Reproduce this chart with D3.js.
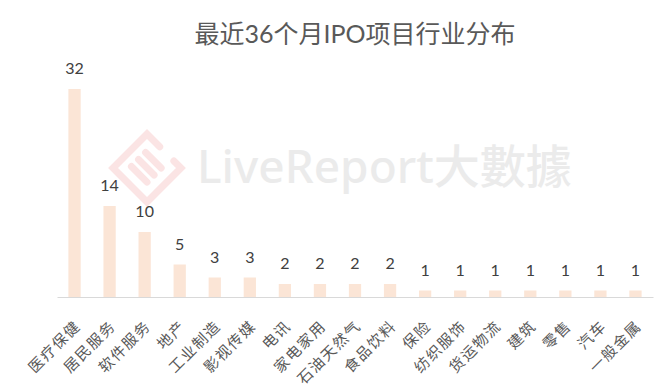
<!DOCTYPE html>
<html>
<head>
<meta charset="utf-8">
<script src="https://cdn.jsdelivr.net/npm/d3@7"></script>
<style>
  body { margin: 0; background: #fff; }
  svg { display: block; font-family: "Lato", "Noto Sans CJK SC", sans-serif; }
</style>
</head>
<body>
<div id="chart"></div>
<script>
// industries and IPO counts, last 36 months
const industries = ['医疗保健', '居民服务', '软件服务', '地产', '工业制造', '影视传媒', '电讯', '家电家用',
  '石油天然气', '食品饮料', '保险', '纺织服饰', '货运物流', '建筑', '零售', '汽车', '一般金属'];
const counts = [32, 14, 10, 5, 3, 3, 2, 2, 2, 2, 1, 1, 1, 1, 1, 1, 1];
const title = '最近36个月IPO项目行业分布';

const width = 667, height = 392;
const margin = { top: 89, right: 14, bottom: 95, left: 57 };
const plotW = width - margin.left - margin.right;
const plotH = height - margin.top - margin.bottom;

const svg = d3.select('#chart').append('svg')
  .attr('width', width)
  .attr('height', height);

// watermark
const wm = svg.append('g').attr('class', 'watermark');
const logo = wm.append('g').attr('transform', 'translate(147,168) rotate(45)')
  .attr('fill', 'none').attr('stroke', '#fbe4e4').attr('stroke-width', 7).attr('stroke-linecap', 'round');
logo.append('path').attr('d', 'M-6,-24 L-24,-24 L-24,24 L24,24 L24,-24 L14,-24');
logo.append('line').attr('x1', -12).attr('y1', -10).attr('x2', 10).attr('y2', -10);
logo.append('line').attr('x1', -12).attr('y1', 0).attr('x2', 10).attr('y2', 0);
logo.append('line').attr('x1', -12).attr('y1', 10).attr('x2', 10).attr('y2', 10);
wm.append('text')
  .attr('x', 197).attr('y', 183)
  .attr('fill', '#ebebeb')
  .attr('font-size', 46)
  .attr('font-weight', 500)
  .attr('font-family', '"Noto Sans", "Noto Sans CJK TC", sans-serif')
  .text('LiveReport大數據');

svg.append('text')
  .attr('x', 355).attr('y', 43)
  .attr('text-anchor', 'middle')
  .attr('fill', '#595959')
  .attr('font-size', 25)
  .text(title);

const g = svg.append('g').attr('transform', `translate(${margin.left},${margin.top})`);

const x = d3.scaleBand()
  .domain(industries)
  .range([0, plotW])
  .paddingInner(0.65)
  .paddingOuter(0.325);

const y = d3.scaleLinear()
  .domain([0, 32])
  .range([plotH, 0]);

g.selectAll('rect.bar')
  .data(industries)
  .join('rect')
  .attr('class', 'bar')
  .attr('x', d => x(d))
  .attr('y', (d, i) => y(counts[i]))
  .attr('width', x.bandwidth())
  .attr('height', (d, i) => plotH - y(counts[i]))
  .attr('fill', '#fbe5d6');

g.selectAll('text.val')
  .data(industries)
  .join('text')
  .attr('class', 'val')
  .attr('x', d => x(d) + x.bandwidth() / 2)
  .attr('y', (d, i) => y(counts[i]) - 15)
  .attr('text-anchor', 'middle')
  .attr('fill', '#404040')
  .attr('font-size', 16)
  .text((d, i) => counts[i]);

const xAxis = g.append('g')
  .attr('transform', `translate(0,${plotH})`)
  .call(d3.axisBottom(x).tickSize(0).tickSizeOuter(0));
xAxis.select('.domain').attr('stroke', '#d9d9d9');
xAxis.selectAll('text')
  .attr('fill', '#595959')
  .attr('font-size', 15)
  .attr('font-family', '"Noto Sans CJK SC", sans-serif')
  .attr('letter-spacing', 1.5)
  .style('text-anchor', 'end')
  .attr('x', 0).attr('y', 0).attr('dy', 0)
  .attr('transform', 'translate(7,30) rotate(-45)');
</script>
</body>
</html>
